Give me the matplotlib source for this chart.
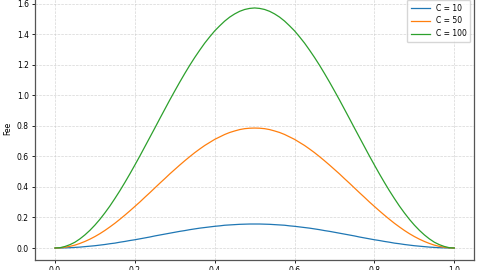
import numpy as np
import matplotlib
matplotlib.use('Agg')
import matplotlib.pyplot as plt

# sample points along the x axis
x = np.linspace(0, 1, 81)

# fee curves (symmetric bell, peak at 0.5)
fee_c100 = [0.000, 0.002, 0.010, 0.022, 0.038, 0.060, 0.086, 0.116, 0.150, 0.188,
            0.230, 0.275, 0.324, 0.375, 0.429, 0.485, 0.543, 0.602, 0.663, 0.724,
            0.785, 0.847, 0.908, 0.969, 1.028, 1.086, 1.142, 1.196, 1.247, 1.295,
            1.341, 1.382, 1.421, 1.454, 1.485, 1.511, 1.532, 1.549, 1.561, 1.568,
            1.571,
            1.568, 1.561, 1.549, 1.532, 1.511, 1.485, 1.454, 1.421, 1.382, 1.341,
            1.295, 1.247, 1.196, 1.142, 1.086, 1.028, 0.969, 0.908, 0.847, 0.785,
            0.724, 0.663, 0.602, 0.543, 0.485, 0.429, 0.375, 0.324, 0.275, 0.230,
            0.188, 0.150, 0.116, 0.086, 0.060, 0.038, 0.022, 0.010, 0.002, 0.000]
fee_c50 = [0.000, 0.001, 0.005, 0.011, 0.019, 0.030, 0.043, 0.058, 0.075, 0.094,
           0.115, 0.138, 0.162, 0.188, 0.215, 0.243, 0.272, 0.301, 0.332, 0.362,
           0.393, 0.424, 0.454, 0.485, 0.514, 0.543, 0.571, 0.598, 0.624, 0.648,
           0.671, 0.691, 0.711, 0.727, 0.743, 0.756, 0.766, 0.775, 0.781, 0.784,
           0.785,
           0.784, 0.781, 0.775, 0.766, 0.756, 0.743, 0.727, 0.711, 0.691, 0.671,
           0.648, 0.624, 0.598, 0.571, 0.543, 0.514, 0.485, 0.454, 0.424, 0.393,
           0.362, 0.332, 0.301, 0.272, 0.243, 0.215, 0.188, 0.162, 0.138, 0.115,
           0.094, 0.075, 0.058, 0.043, 0.030, 0.019, 0.011, 0.005, 0.001, 0.000]
fee_c10 = [0.000, 0.000, 0.001, 0.002, 0.004, 0.006, 0.009, 0.012, 0.015, 0.019,
           0.023, 0.028, 0.032, 0.038, 0.043, 0.049, 0.054, 0.060, 0.066, 0.072,
           0.079, 0.085, 0.091, 0.097, 0.103, 0.109, 0.114, 0.120, 0.125, 0.130,
           0.134, 0.138, 0.142, 0.145, 0.149, 0.151, 0.153, 0.155, 0.156, 0.157,
           0.157,
           0.157, 0.156, 0.155, 0.153, 0.151, 0.149, 0.145, 0.142, 0.138, 0.134,
           0.130, 0.125, 0.120, 0.114, 0.109, 0.103, 0.097, 0.091, 0.085, 0.079,
           0.072, 0.066, 0.060, 0.054, 0.049, 0.043, 0.038, 0.032, 0.028, 0.023,
           0.019, 0.015, 0.012, 0.009, 0.006, 0.004, 0.002, 0.001, 0.000, 0.000]
labels = ['C = 10', 'C = 50', 'C = 100']

fig = plt.figure(figsize=(4.8, 2.7), dpi=100)
ax = fig.add_axes([0.073, 0.037, 0.915, 0.978])

for y, lab in zip([fee_c10, fee_c50, fee_c100], labels):
    ax.plot(x, y, linewidth=0.9, label=lab)

ax.set_yticks(np.arange(0, 1.61, 0.2))
ax.set_xticks(np.arange(0, 1.01, 0.2))
ax.tick_params(labelsize=5.5, length=2.5, width=0.6, pad=2)
ax.grid(True, linestyle='--', linewidth=0.5, color='#cccccc', alpha=0.8)
ax.set_ylabel('Fee', fontsize=5.5, labelpad=3)
for s in ax.spines.values():
    s.set_linewidth(0.9)
    s.set_color('#555555')

ax.legend(loc='upper right', fontsize=5.5, handlelength=2.5, borderpad=0.5)

fig.savefig('out.png', dpi=100)
